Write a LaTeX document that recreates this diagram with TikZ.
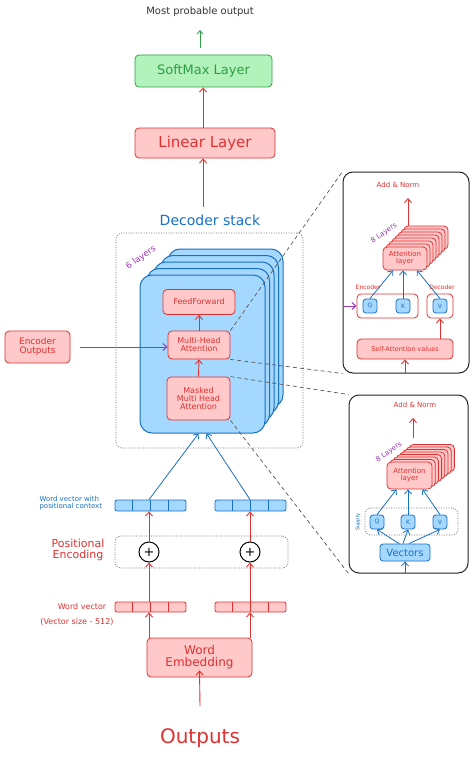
\documentclass[tikz,border=0pt]{standalone}
\usepackage{fontspec}
\setmainfont{DejaVu Sans}
\usetikzlibrary{arrows.meta,calc}
\definecolor{rd}{HTML}{E03131}
\definecolor{rdfill}{HTML}{FFC9C9}
\definecolor{bl}{HTML}{1971C2}
\definecolor{blfill}{HTML}{A5D8FF}
\definecolor{gr}{HTML}{2F9E44}
\definecolor{grfill}{HTML}{B2F2BB}
\definecolor{pu}{HTML}{9C36B5}
\newcommand\myfs[1]{\fontsize{#1}{#1}\selectfont}
\begin{document}
\begin{tikzpicture}[x=1pt,y=-1pt,
  redbox/.style={draw=rd,fill=rdfill,line width=0.8pt,rounded corners=4pt,text=rd,align=center,inner sep=0pt},
  redcard/.style={draw=rd,fill=rdfill,line width=0.8pt,rounded corners=4pt,inner sep=0pt},
  bluebox/.style={draw=bl,fill=blfill,line width=0.8pt,rounded corners=3pt,text=bl,align=center,inner sep=0pt},
  bluecard/.style={draw=bl,fill=blfill,line width=1pt,rounded corners=12pt,inner sep=0pt,minimum height=158pt},
  rarr/.style={draw=rd,line width=0.9pt,-{Straight Barb[length=4pt,width=7pt]}},
  barr/.style={draw=bl,line width=0.8pt,-{Straight Barb[length=4pt,width=7pt]}},
  garr/.style={draw=gr,line width=0.8pt,-{Straight Barb[length=3.5pt,width=6pt]}},
  parr/.style={draw=pu,line width=1pt,-{Straight Barb[length=4pt,width=7pt]}},
  dashl/.style={draw=black!65,line width=0.7pt,dash pattern=on 4pt off 3pt},
  dotbox/.style={draw=black!55,line width=0.7pt,dash pattern=on 1pt off 1.5pt,rounded corners=6pt,inner sep=0pt},
  vrow/.style={minimum width=71pt,minimum height=11pt,rounded corners=2pt,inner sep=0pt,line width=0.8pt},
]
\useasboundingbox (0,0) rectangle (474,757);
\fill[white] (0,0) rectangle (474,757);

% ---------- top ----------
\node[text=black!80,font=\myfs{10}] (out) at (200,12) {Most probable output};
\node[draw=gr,fill=grfill,line width=0.8pt,rounded corners=4pt,text=gr,inner sep=0pt,
      minimum width=137pt,minimum height=32pt,font=\myfs{13}] (soft) at (203.5,71) {SoftMax Layer};
\node[redbox,minimum width=140pt,minimum height=30pt,font=\myfs{15}] (lin) at (205,143) {Linear Layer};
\draw[garr,shorten <=7pt] (soft.north -| out) -- (200,30);
\draw[rarr] (lin.north -| 203,0) -- (soft.south -| 203,0);

% ---------- decoder stack ----------
\node[text=bl,font=\myfs{14}] (dect) at (210,220) {Decoder stack};
\draw[rarr] (203,207) -- (lin.south -| 203,0);
\node[dotbox,minimum width=187pt,minimum height=215pt] (decbox) at (209.5,340.5) {};
\foreach \k in {4,3,2,1} {
  \node[bluecard,minimum width={125pt-2.5pt*\k}] (card\k) at ({202.5+5.75*\k},{354-6.5*\k}) {};
}
\node[bluecard,minimum width=125pt] (card0) at (202.5,354) {};
\node[text=pu,rotate=35,font=\myfs{8.5},inner sep=1pt] (six) at (141,258) {6 layers};

\node[redbox,minimum width=72pt,minimum height=25pt,font=\myfs{8}] (ff) at (199,302) {FeedForward};
\node[redbox,minimum width=62pt,minimum height=28pt,font=\myfs{8}] (mha) at (199,345) {Multi-Head\\Attention};
\node[redbox,minimum width=63pt,minimum height=43pt,font=\myfs{8}] (mmha) at (198.5,398.5) {Masked\\Multi Head\\Attention};
\draw[rarr] (mha.north) -- (ff.south);
\draw[rarr] (mmha.north) -- (mha.south);

\node[redbox,minimum width=65pt,minimum height=32pt,font=\myfs{9}] (enc) at (37.5,347) {Encoder\\Outputs};
\draw[parr,shorten <=10pt] (enc.east) -- (enc.east -| mha.west);

% ---------- insets ----------
\node[draw=black!85,line width=1pt,rounded corners=10pt,minimum width=126pt,minimum height=201pt,inner sep=0pt] (ins1) at (406,272.5) {};
\node[draw=black!85,line width=1pt,rounded corners=10pt,minimum width=119pt,minimum height=178pt,inner sep=0pt] (ins2) at (408.5,484) {};

\draw[dashl] (mha.north east) -- (ins1.north west);
\draw[dashl] (mha.south east) -- (ins1.south west);
\draw[dashl] (mmha.north east) -- (ins2.north west);
\draw[dashl] (mmha.south east) -- (ins2.south west);

% top inset
\node[text=rd,font=\myfs{7}] (an1) at (398,185) {Add \& Norm};
\foreach \k in {7,...,1} {
  \node[redcard,minimum width=44pt,minimum height=23pt] (ac\k) at ({405+3*\k},{258.5-3*\k}) {};
}
\node[redbox,minimum width=44pt,minimum height=23pt,font=\myfs{7}] (att1) at (405,258.5) {Attention\\layer};
\draw[rarr] (408,226) -- (408,198);
\node[text=pu,rotate=35,font=\myfs{7},inner sep=1pt] (el1) at (384,233) {8 Layers};
\node[text=rd,font=\myfs{6}] (encl) at (368,287) {Encoder};
\node[text=rd,font=\myfs{6}] (decl) at (442,287) {Decoder};
\node[draw=rd,line width=0.8pt,rounded corners=4pt,minimum width=61pt,minimum height=24pt,inner sep=0pt] (eg) at (387.5,306) {};
\node[draw=rd,line width=0.8pt,rounded corners=4pt,minimum width=26pt,minimum height=24pt,inner sep=0pt] (dg) at (440,306) {};
\node[bluebox,minimum size=14pt,font=\myfs{6}] (q1) at (370,306) {Q};
\node[bluebox,minimum size=14pt,font=\myfs{6}] (k1) at (403,306) {K};
\node[bluebox,minimum size=14pt,font=\myfs{6}] (v1) at (440,306) {V};
\draw[barr] (q1.north) -- ([xshift=-12pt]att1.south);
\draw[barr] (k1.north) -- (k1.north |- att1.south);
\draw[barr] (v1.north) -- ([xshift=12pt]att1.south);
\draw[parr] (ins1.west |- eg.west) -- (eg.west);
\node[redbox,minimum width=96pt,minimum height=20pt,font=\myfs{6.5}] (sav) at (405,349) {Self-Attention values};
\draw[rarr] (sav.north -| dg) -- (dg.south);
\draw[rarr] (ins1.south -| sav) -- (sav.south);

% bottom inset
\node[text=rd,font=\myfs{7}] (an2) at (415,405) {Add \& Norm};
\foreach \k in {7,...,1} {
  \node[redcard,minimum width=45pt,minimum height=27pt] (bc\k) at ({409.5+3.2*\k},{475.5-2.5*\k}) {};
}
\node[redbox,minimum width=45pt,minimum height=27pt,font=\myfs{7}] (att2) at (409.5,475.5) {Attention\\layer};
\draw[rarr] (413,438) -- (413,418);
\node[text=pu,rotate=35,font=\myfs{7},inner sep=1pt] (el2) at (389,452) {8 Layers};
\node[dotbox,minimum width=93pt,minimum height=27pt] (qkv) at (411.5,521.5) {};
\node[bluebox,minimum size=14pt,font=\myfs{6}] (q2) at (377,522) {Q};
\node[bluebox,minimum size=14pt,font=\myfs{6}] (k2) at (408,522) {K};
\node[bluebox,minimum size=14pt,font=\myfs{6}] (v2) at (440,522) {V};
\node[text=bl,rotate=90,font=\myfs{5}] (sup) at (358,522) {Supply};
\draw[barr] (q2.north) -- ([xshift=-13pt]att2.south);
\draw[barr] (k2.north) -- (k2.north |- att2.south);
\draw[barr] (v2.north) -- ([xshift=13pt]att2.south);
\node[bluebox,minimum width=50pt,minimum height=17pt,font=\myfs{10}] (vec) at (405,552.5) {Vectors};
\draw[barr] ([xshift=-6pt]vec.north) -- (q2.south);
\draw[barr] ([xshift=-2pt]vec.north) -- (k2.south);
\draw[barr] ([xshift=4pt]vec.north) -- (v2.south);
\draw[barr] (ins2.south -| vec) -- (vec.south);

% ---------- bottom left ----------
\node[text=bl,align=left,anchor=west,font=\myfs{7}] (wvpl) at (36,503) {Word vector with\\positional context};
\node[bluebox,vrow] (bv1) at (150.5,505.5) {};
\node[bluebox,vrow] (bv2) at (250.5,505.5) {};
\node[dotbox,minimum width=173pt,minimum height=32pt] (pebox) at (201.5,552) {};
\node[text=rd,align=center,font=\myfs{11}] (pel) at (78,550) {Positional\\Encoding};
\node[circle,draw=black,line width=1pt,fill=white,minimum size=20pt,inner sep=0pt,font=\myfs{13}] (p1) at (149,552) {+};
\node[circle,draw=black,line width=1pt,fill=white,minimum size=20pt,inner sep=0pt,font=\myfs{13}] (p2) at (250,552) {+};
\node[redbox,vrow,minimum height=10pt] (wv1) at (150.5,607) {};
\node[redbox,vrow,minimum height=10pt] (wv2) at (250.5,607) {};
\foreach \r/\c in {bv1/bl,bv2/bl,wv1/rd,wv2/rd} {
  \foreach \i in {1,2,3} {
    \draw[\c,line width=0.7pt] ($(\r.north west)!\i/4!(\r.north east)$) -- ($(\r.south west)!\i/4!(\r.south east)$);
  }
}
\node[text=rd,font=\myfs{8}] (wvl) at (82,607) {Word vector};
\node[text=rd,font=\myfs{8}] (vsl) at (77,622) {(Vector size - 512)};
\node[redbox,minimum width=105pt,minimum height=39pt,font=\myfs{12}] (we) at (199.5,657.5) {Word\\Embedding};
\node[text=rd,font=\myfs{20}] (outs) at (200,738) {Outputs};

\draw[rarr] (we.north -| p1) -- (p1 |- wv1.south);
\draw[rarr] (we.north -| p2) -- (p2 |- wv2.south);
\draw[rarr] (p1 |- wv1.north) -- (p1.south);
\draw[rarr] (p2 |- wv2.north) -- (p2.south);
\draw[rarr] (p1.north) -- (p1 |- bv1.south);
\draw[rarr] (p2.north) -- (p2 |- bv2.south);
\draw[barr] (p1 |- bv1.north) -- ([xshift=-4pt]card0.south);
\draw[barr] (p2 |- bv2.north) -- ([xshift=4pt]card0.south);
\draw[rarr] (200,706) -- ([yshift=7pt]we.south);
\end{tikzpicture}
\end{document}
